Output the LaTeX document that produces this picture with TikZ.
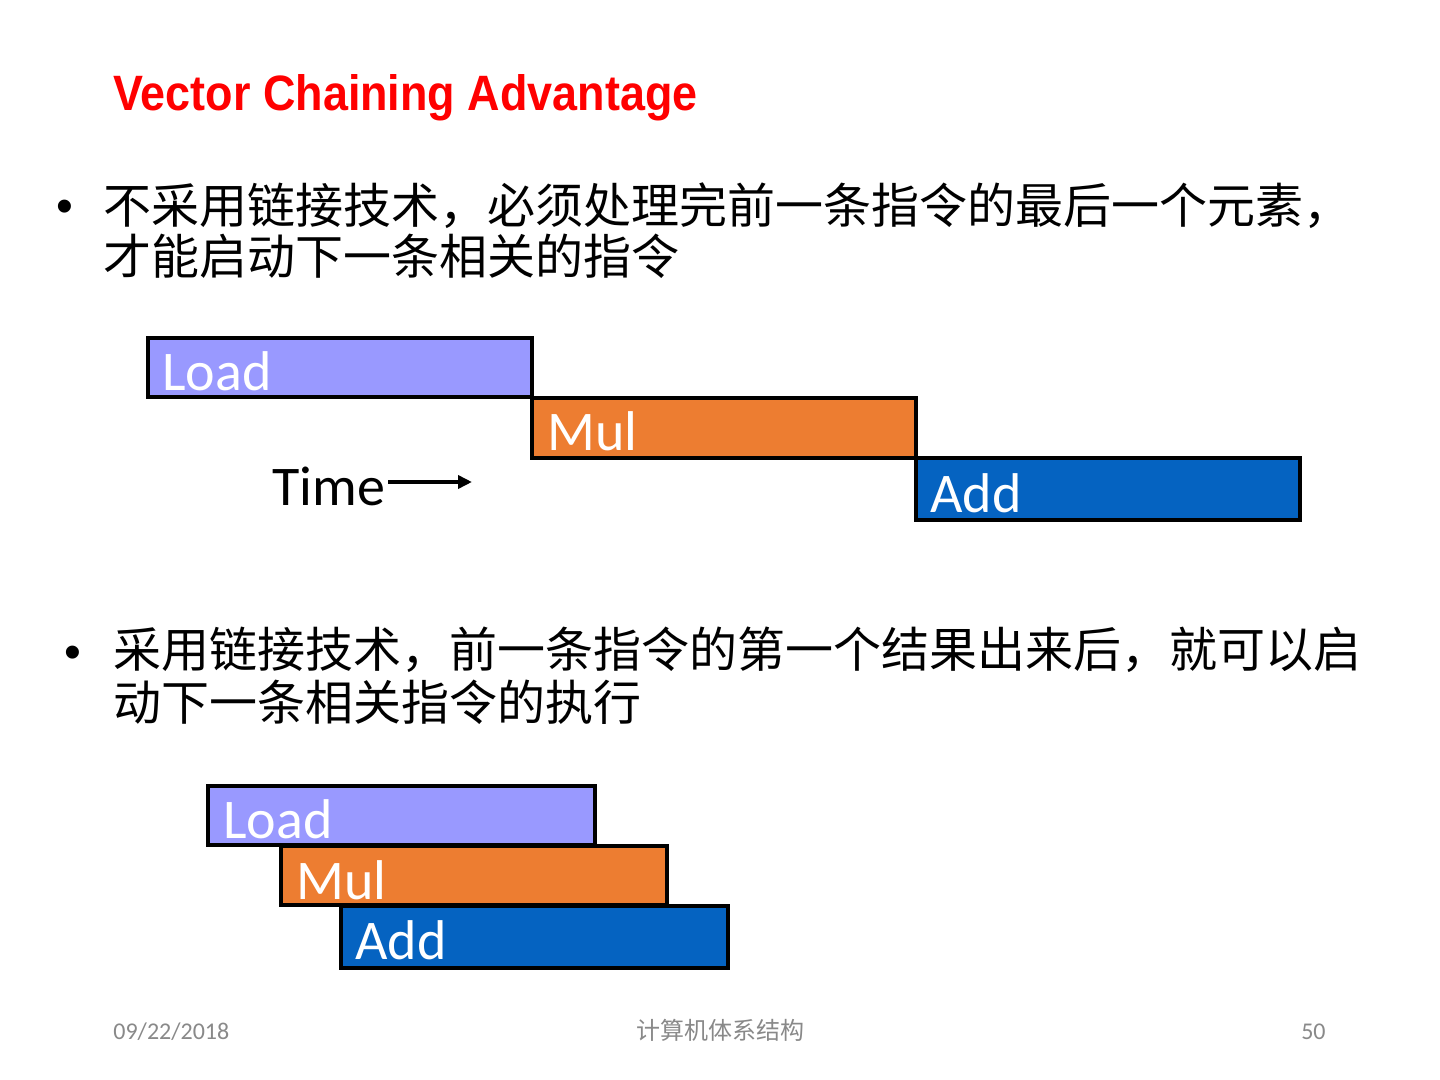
\documentclass[tikz,border=0pt]{standalone}
\usepackage{fontspec}
\setmainfont{Carlito}
\newfontfamily\cjk{Noto Sans CJK SC}
\newfontfamily\titlefont{Liberation Sans}
\newfontfamily\bulfont{Liberation Sans}
\usetikzlibrary{calc,arrows.meta}
\definecolor{loadc}{HTML}{9999FF}
\definecolor{mulc}{HTML}{ED7D31}
\definecolor{addc}{HTML}{0563C1}
\definecolor{titlered}{HTML}{FF0000}
\definecolor{footgray}{HTML}{898989}
\begin{document}
\begin{tikzpicture}[x=0.5pt,y=-0.5pt,
  bar/.style={draw=black, line width=2.4pt, anchor=north west, inner sep=0pt, outer sep=0pt},
  barlabel/.style={text=white, font=\fontsize{28}{34}\selectfont, anchor=base west, inner sep=0pt},
  cjkline/.style={font=\cjk\fontsize{24}{28}\selectfont, anchor=base west, inner sep=0pt},
  bulletmark/.style={font=\bulfont\fontsize{24}{28}\selectfont, anchor=base west, inner sep=0pt},
  foot/.style={text=footgray, font=\fontsize{12}{14}\selectfont, inner sep=0pt}]
\useasboundingbox (0,0) rectangle (1440,1080);
\fill[white] (0,0) rectangle (1440,1080);

% title
\node[anchor=base west, inner sep=0pt, text=titlered] (title) at (113,111)
  {\resizebox{292pt}{18pt}{\titlefont\bfseries Vector Chaining Advantage}};

% first bullet
\node[bulletmark] (b1) at (56,223) {•};
\node[cjkline] (t1a) at (103,224) {不采用链接技术，必须处理完前一条指令的最后一个元素，};
\node[cjkline] (t1b) at (103,275) {才能启动下一条相关的指令};

% top timeline
\node[bar, fill=loadc, minimum width=192pt, minimum height=29.5pt] (load1) at (148,338) {};
\node[bar, fill=mulc, minimum width=192pt, minimum height=30pt] (mul1) at (532,398) {};
\node[bar, fill=addc, minimum width=192pt, minimum height=31pt] (add1) at (916,458) {};
\node[barlabel] (load1t) at ($(load1.south west)+(14,-6)$) {Load};
\node[barlabel] (mul1t) at ($(mul1.south west)+(15,-7)$) {Mul};
\node[barlabel] (add1t) at ($(add1.south west)+(14,-8)$) {Add};

% time arrow
\node[font=\fontsize{28}{34}\selectfont, anchor=base west, inner sep=0pt] (time) at (272,505) {Time};
\coordinate (tstart) at (388,482);
\coordinate (tend) at (472,482);
\draw[line width=1.8pt, -{Triangle[length=7pt,width=6.5pt]}] (tstart) -- (tend);

% second bullet
\node[bulletmark] (b2) at (64,668) {•};
\node[cjkline] (t2a) at (113,667) {采用链接技术，前一条指令的第一个结果出来后，就可以启};
\node[cjkline] (t2b) at (113,720) {动下一条相关指令的执行};

% bottom timeline
\node[bar, fill=loadc, minimum width=193.5pt, minimum height=29.5pt] (load2) at (208,786) {};
\node[bar, fill=mulc, minimum width=193pt, minimum height=29.5pt] (mul2) at (281,846) {};
\node[bar, fill=addc, minimum width=193.5pt, minimum height=31pt] (add2) at (341,906) {};
\node[barlabel] (load2t) at ($(load2.south west)+(15,-7)$) {Load};
\node[barlabel] (mul2t) at ($(mul2.south west)+(15,-6)$) {Mul};
\node[barlabel] (add2t) at ($(add2.south west)+(14,-9)$) {Add};

% footer
\node[foot, anchor=base west] (date) at (113,1039) {09/22/2018};
\node[foot, anchor=base, font=\cjk\fontsize{12}{14}\selectfont] (course) at (720,1039) {计算机体系结构};
\node[foot, anchor=base east] (page) at (1326,1039) {50};
\end{tikzpicture}
\end{document}
